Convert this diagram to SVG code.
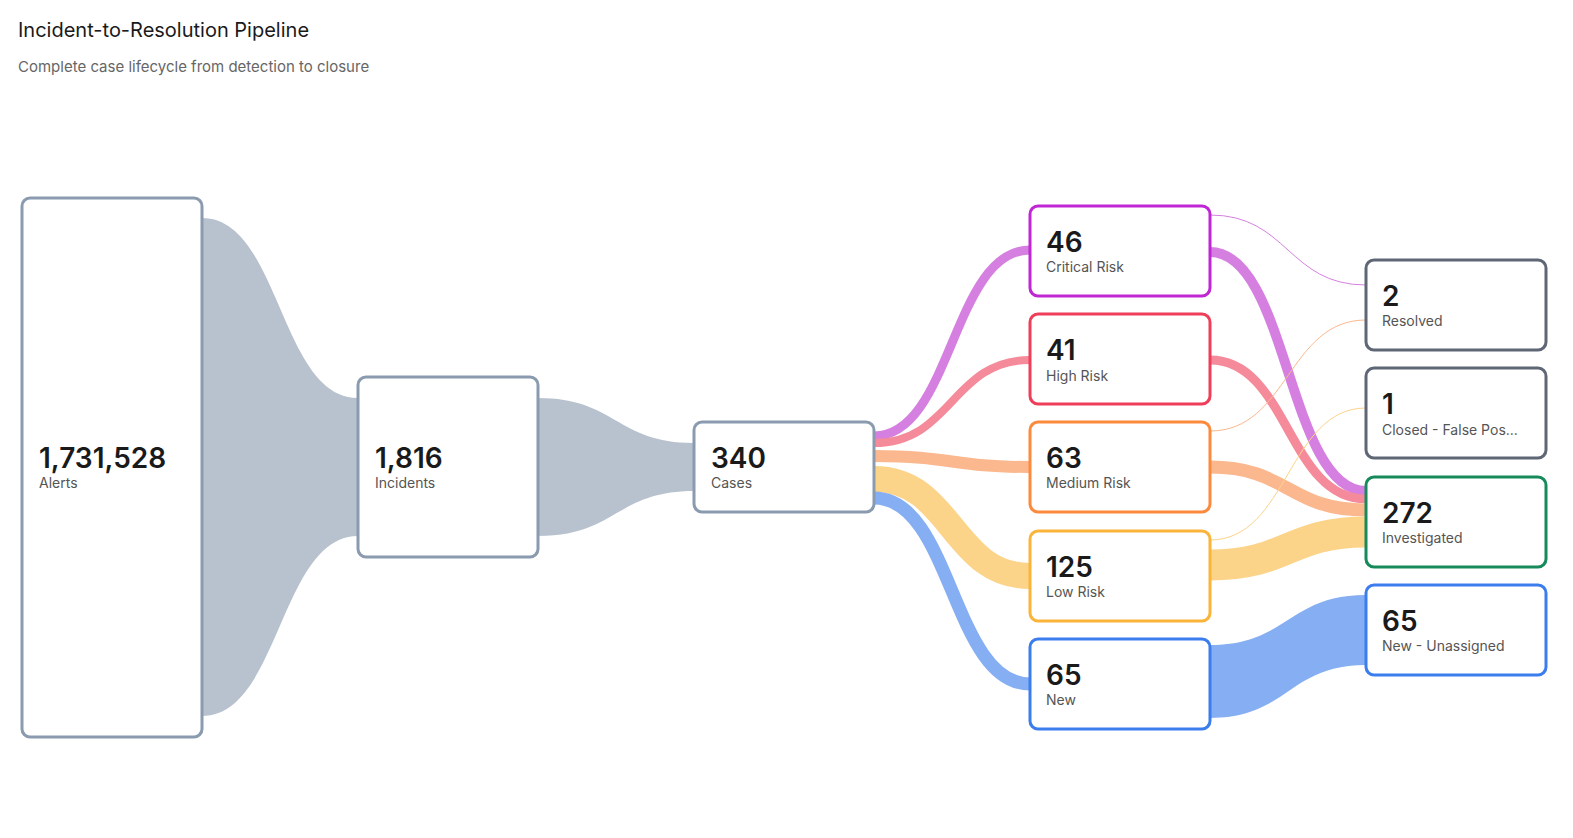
<svg xmlns="http://www.w3.org/2000/svg" width="1573" height="838" viewBox="0 0 1573 838">
<style>
.n{fill:#fff;stroke-width:3}
.v{font-family:Inter,"Noto Sans",sans-serif;font-size:28px;font-weight:600;fill:#1a1a1a}
.l{font-family:Inter,"Noto Sans",sans-serif;font-size:14px;fill:#555}
.f{fill:none}
</style>
<rect width="1573" height="838" fill="#fff"/>
<text x="18" y="37" font-family="Inter,'Noto Sans',sans-serif" font-size="20" fill="#1a1a1a">Incident-to-Resolution Pipeline</text>
<text x="18" y="72" font-family="Inter,'Noto Sans',sans-serif" font-size="15" fill="#666">Complete case lifecycle from detection to closure</text>
<g id="connectors">
<path d="M202,218 C280,218 280,398 358,398 L358,536 C280,536 280,716 202,716 Z" fill="#b8c2ce"/>
<path d="M538,398 C616,398 616,443 694,443 L694,491 C616,491 616,536 538,536 Z" fill="#b8c2ce"/>
<path class="f" d="M874,436 C952,436 952,250 1030,250" stroke="#d580e0" stroke-width="9"/>
<path class="f" d="M874,443 C952,443 952,360 1030,360" stroke="#f48a9a" stroke-width="8"/>
<path class="f" d="M874,456 C952,456 952,467 1030,467" stroke="#fbb88e" stroke-width="12"/>
<path class="f" d="M874,479 C952,479 952,576 1030,576" stroke="#fbd48a" stroke-width="26"/>
<path class="f" d="M874,498 C952,498 952,684 1030,684" stroke="#86aef2" stroke-width="13"/>
<path class="f" d="M1210,215 C1288,215 1288,285 1366,285" stroke="#d580e0" stroke-width="1"/>
<path class="f" d="M1210,252 C1288,252 1288,491 1366,491" stroke="#d580e0" stroke-width="10"/>
<path class="f" d="M1210,360 C1288,360 1288,499 1366,499" stroke="#f48a9a" stroke-width="9"/>
<path class="f" d="M1210,431 C1288,431 1288,320 1366,320" stroke="#fbb88e" stroke-width="1"/>
<path class="f" d="M1210,467 C1288,467 1288,510 1366,510" stroke="#fbb88e" stroke-width="13"/>
<path class="f" d="M1210,540 C1288,540 1288,408 1366,408" stroke="#fbd48a" stroke-width="1"/>
<path class="f" d="M1210,565 C1288,565 1288,532 1366,532" stroke="#fbd48a" stroke-width="31"/>
<path d="M1210,645 C1288,645 1288,595 1366,595 L1366,665 C1288,665 1288,718 1210,718 Z" fill="#86aef2"/>
</g>
<g id="alerts"><rect class="n" x="22" y="198" width="180" height="539" rx="8" stroke="#8a9bb0"/><text class="v" x="39" y="468">1,731,528</text><text class="l" x="39" y="488">Alerts</text></g>
<g id="incidents"><rect class="n" x="358" y="377" width="180" height="180" rx="8" stroke="#8a9bb0"/><text class="v" x="375" y="468">1,816</text><text class="l" x="375" y="488">Incidents</text></g>
<g id="cases"><rect class="n" x="694" y="422" width="180" height="90" rx="8" stroke="#8a9bb0"/><text class="v" x="711" y="468">340</text><text class="l" x="711" y="488">Cases</text></g>
<g id="critical"><rect class="n" x="1030" y="206" width="180" height="90" rx="8" stroke="#c026d3"/><text class="v" x="1046" y="252">46</text><text class="l" x="1046" y="272">Critical Risk</text></g>
<g id="high"><rect class="n" x="1030" y="314" width="180" height="90" rx="8" stroke="#ef3e5a"/><text class="v" x="1046" y="360">41</text><text class="l" x="1046" y="381">High Risk</text></g>
<g id="medium"><rect class="n" x="1030" y="422" width="180" height="90" rx="8" stroke="#fb8a3c"/><text class="v" x="1046" y="468">63</text><text class="l" x="1046" y="488">Medium Risk</text></g>
<g id="low"><rect class="n" x="1030" y="531" width="180" height="90" rx="8" stroke="#fbb43a"/><text class="v" x="1046" y="577">125</text><text class="l" x="1046" y="597">Low Risk</text></g>
<g id="new"><rect class="n" x="1030" y="639" width="180" height="90" rx="8" stroke="#3b7ded"/><text class="v" x="1046" y="685">65</text><text class="l" x="1046" y="705">New</text></g>
<g id="resolved"><rect class="n" x="1366" y="260" width="180" height="90" rx="8" stroke="#5f6675"/><text class="v" x="1382" y="306">2</text><text class="l" x="1382" y="326">Resolved</text></g>
<g id="closed"><rect class="n" x="1366" y="368" width="180" height="90" rx="8" stroke="#5f6675"/><text class="v" x="1382" y="414">1</text><text class="l" x="1382" y="435">Closed - False Pos...</text></g>
<g id="investigated"><rect class="n" x="1366" y="477" width="180" height="90" rx="8" stroke="#168a5a"/><text class="v" x="1382" y="523">272</text><text class="l" x="1382" y="543">Investigated</text></g>
<g id="unassigned"><rect class="n" x="1366" y="585" width="180" height="90" rx="8" stroke="#3b7ded"/><text class="v" x="1382" y="631">65</text><text class="l" x="1382" y="651">New - Unassigned</text></g>
</svg>
